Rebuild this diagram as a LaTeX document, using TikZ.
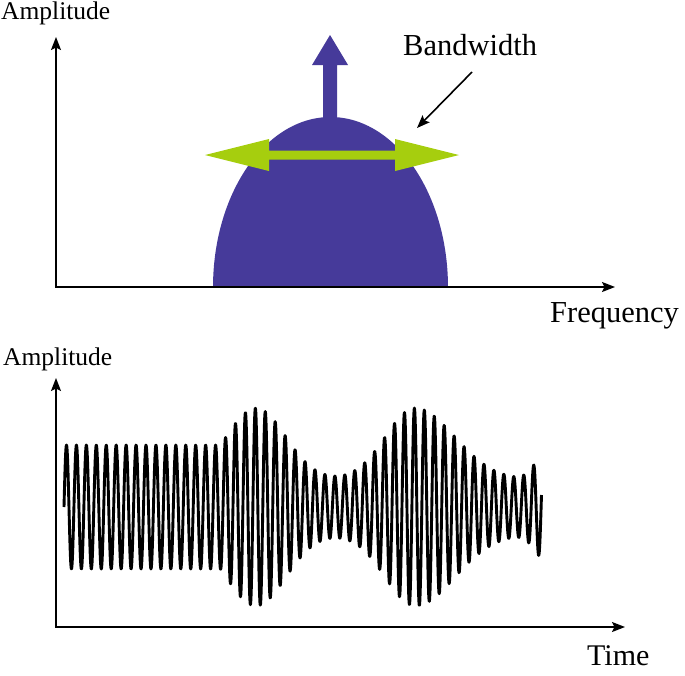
\documentclass[tikz,border=0pt]{standalone}
\usepackage{fontspec}
\setmainfont{Liberation Serif}
\usetikzlibrary{arrows.meta}
\definecolor{bellpurple}{RGB}{70,58,154}
\definecolor{bwgreen}{RGB}{166,206,14}
\pgfmathdeclarefunction{wenv}{1}{%
  \begingroup
    \pgfmathparse{27+72*exp(-min(((#1-256)/42)^2,9.5))+72*exp(-min(((#1-415)/((#1<415)?42:56))^2,9.5))+25*exp(-min(((#1-545)/15)^2,9.5))}%
    \ifdim #1pt<256pt \pgfmathparse{max(62,\pgfmathresult)}\fi
    \pgfmathsmuggle\pgfmathresult
  \endgroup}
\tikzset{
  axisline/.style={line width=1.5pt, black, {Stealth[length=13pt,width=10pt,inset=2.5pt]}-{Stealth[length=13pt,width=10pt,inset=2.5pt]}},
  pointer/.style={line width=1.6pt, black, -{Stealth[length=13pt,width=10pt,inset=2.5pt]}},
  wave/.style={line width=2.9pt, black, line join=round},
  lbl/.style={inner sep=0pt, anchor=base west, text=black}
}
\begin{document}
\begin{tikzpicture}[x=1pt,y=-1pt]
\useasboundingbox (0,0) rectangle (685,675);
% ---------- top panel ----------
\coordinate (o1) at (56,287);
\coordinate (y1) at (56,37);
\coordinate (x1) at (615,287);
% bell
\fill[bellpurple] (213,287.5) arc[start angle=180, end angle=360, x radius=117.5, y radius=170.5] -- cycle;
% up arrow
\fill[bellpurple] (323,125) -- (323,65) -- (312,65) -- (330,35) -- (348,65) -- (337,65) -- (337,125) -- cycle;
% green double arrow
\fill[bwgreen] (205,155) -- (269,139) -- (269,150.5) -- (395,150.5) -- (395,139) -- (459,155) -- (395,171) -- (395,159.5) -- (269,159.5) -- (269,171) -- cycle;
\draw[axisline] (y1) -- (o1) -- (x1);
\node[lbl, font=\fontsize{25.5}{30}\selectfont] (amp1) at (1,19) {Amplitude};
\node[lbl, font=\fontsize{30.5}{36}\selectfont] (freq) at (550,322) {Frequency};
\node[lbl, font=\fontsize{30.5}{36}\selectfont] (bw) at (403,55) {Bandwidth};
\coordinate (bwtail) at (472,72);
\coordinate (bwtip) at (417,128);
\draw[pointer] (bwtail) -- (bwtip);
% ---------- bottom panel ----------
\coordinate (o2) at (56,627);
\coordinate (y2) at (56,378);
\coordinate (x2) at (625,627);
\draw[axisline] (y2) -- (o2) -- (x2);
\node[lbl, font=\fontsize{25.5}{30}\selectfont] (amp2) at (3,365) {Amplitude};
\node[lbl, font=\fontsize{30}{36}\selectfont] (time) at (587,665) {Time};
\draw[wave] plot[domain=64:541.5, samples=1500, variable=\x] (\x, {507 - wenv(\x)*sin(36.2173*mod(\x-64,9.94))});
\end{tikzpicture}
\end{document}
